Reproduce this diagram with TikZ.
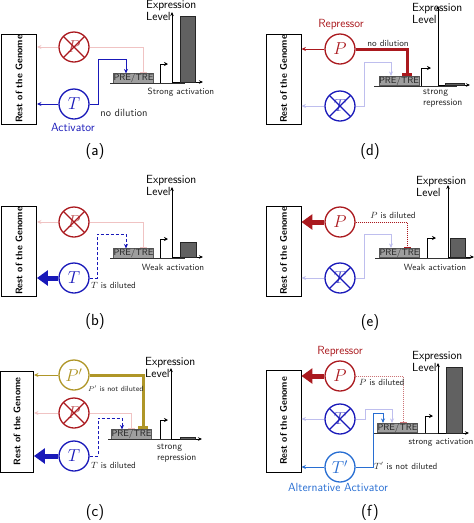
\documentclass[tikz,border=0pt]{standalone}
\usetikzlibrary{arrows.meta}
\definecolor{rdark}{RGB}{170,25,30}
\definecolor{rpale}{RGB}{240,195,195}
\definecolor{bdark}{RGB}{25,25,185}
\definecolor{bpale}{RGB}{190,190,238}
\definecolor{olivec}{RGB}{175,150,40}
\definecolor{bmid}{RGB}{40,110,210}
\tikzset{
 gen/.style={draw, line width=0.9pt, minimum width=35pt, minimum height=90pt, inner sep=0pt,
   label={[rotate=90,font=\sffamily\bfseries\fontsize{9.5}{10}\selectfont]center:Rest of the Genome}},
 circ/.style={circle, draw=#1, text=#1, line width=1.3pt, minimum size=30pt, inner sep=0pt,
   font=\fontsize{18}{18}\selectfont},
 xcirc/.style={circ=#1, text opacity=0.75, path picture={\draw[#1, line width=1.3pt]
   (path picture bounding box.south west) -- (path picture bounding box.north east)
   (path picture bounding box.north west) -- (path picture bounding box.south east);}},
 pre/.style={draw=black!65, fill=black!38, text=black!85, line width=0.6pt, minimum width=39pt, minimum height=9.5pt,
   inner sep=0pt, font=\sffamily\fontsize{9}{9}\selectfont},
 barbox/.style={fill=black!62, draw=black!85, line width=0.5pt},
 cline/.style={line width=1pt},
 act/.style={cline, -{Stealth[length=4.5pt,width=4pt]}},
 rep/.style={cline, -{Bar[width=7pt]}},
 threp/.style={line width=3pt, -{Bar[width=10pt]}},
 tharr/.style={line width=5pt, -{Triangle[length=11pt,width=15pt]}},
 base/.style={line width=0.8pt, black!80},
 prom/.style={line width=0.8pt, -{Stealth[length=4pt,width=4pt]}},
 axisl/.style={line width=0.8pt, -{Stealth[length=4pt,width=3.5pt]}},
 exprs/.style={font=\sffamily\fontsize{11.8}{11.2}\selectfont, align=left, inner sep=0pt, anchor=west},
 lbl/.style={font=\sffamily\fontsize{9}{10.5}\selectfont, inner sep=0pt, black!85},
 rlbl/.style={font=\sffamily\fontsize{9.6}{11}\selectfont, inner sep=0pt, black!85},
 slbl/.style={font=\sffamily\fontsize{7.5}{9}\selectfont, inner sep=0pt, black!85},
 role/.style={font=\sffamily\fontsize{11.8}{13}\selectfont, inner sep=0pt},
 subcap/.style={font=\sffamily\fontsize{16}{18}\selectfont, inner sep=0pt},
}
\begin{document}
\begin{tikzpicture}[x=1pt,y=-1pt]
\useasboundingbox (0,0) rectangle (474,523);
% ================= (a)
\node[gen] (agen) at (19,79) {};
\node[xcirc=rdark] (aP) at (74,47) {$P$};
\node[circ=bdark] (aT) at (74,104) {$T$};
\node[role, text=bdark] (aTl) at (73,127) {Activator};
\node[pre] (apre) at (133.5,78.5) {PRE/TRE};
\draw[act, rpale] (aP.west) -- (aP.west -| agen.east);
\draw[act, bdark] (aT.west) -- (aT.west -| agen.east);
\coordinate (aR) at (143,47);
\draw[rep, rpale] (aP.east) -- (aR) -- (aR |- apre.north);
\coordinate (aA1) at (98,59); \coordinate (aA2) at (126,59);
\draw[act, bdark] (aT.east) -| (aA1) -- (aA2) -- (aA2 |- apre.north);
\coordinate (aB1) at (110,83); \coordinate (aB2) at (185,83);
\draw[base] (aB1) -- (aB2);
\coordinate (aPr) at (160,64);
\draw[prom] (aPr |- aB1) -- (aPr) -- ++(8,0);
\coordinate (aO) at (172,82);
\draw[axisl] (aO) -- ++(0,-70);
\draw[axisl] (aO) -- ++(31,0);
\draw[barbox] (180,16) rectangle (195,82);
\node[exprs] (aEx) at (146,10.5) {Expression\\Level};
\node[lbl] (aSt) at (181,92) {Strong activation};
\node[font=\sffamily\fontsize{10.5}{12}\selectfont, inner sep=0pt, black!85] (aNd) at (124,113) {no dilution};
\node[subcap] (acap) at (95,151.5) {(a)};
% ================= (b)
\node[gen] (bgen) at (19,251) {};
\node[xcirc=rdark] (bP) at (74,222) {$P$};
\node[circ=bdark] (bT) at (74,278) {$T$};
\node[pre] (bpre) at (133.5,253.5) {PRE/TRE};
\draw[act, rpale] (bP.west) -- (bP.west -| bgen.east);
\draw[tharr, bdark] (bT.west) -- (bT.west -| bgen.east);
\coordinate (bR) at (143,222);
\draw[rep, rpale] (bP.east) -- (bR) -- (bR |- bpre.north);
\coordinate (bA1) at (97,234); \coordinate (bA2) at (126,234);
\draw[act, bdark, densely dashed] (bT.east) -| (bA1) -- (bA2) -- (bA2 |- bpre.north);
\coordinate (bB1) at (110,258); \coordinate (bB2) at (185,258);
\draw[base] (bB1) -- (bB2);
\coordinate (bPr) at (160,239);
\draw[prom] (bPr |- bB1) -- (bPr) -- ++(8,0);
\coordinate (bO) at (172,257);
\draw[axisl] (bO) -- ++(0,-70);
\draw[axisl] (bO) -- ++(31,0);
\draw[barbox] (180,242) rectangle (196,257);
\node[exprs] (bEx) at (146,185.5) {Expression\\Level};
\node[lbl] (bSt) at (173,267) {Weak activation};
\node[lbl, anchor=west] (bNd) at (91,285) {$T$ is diluted};
\node[subcap] (bcap) at (95,322) {(b)};
% ================= (c)
\node[gen, minimum width=33pt, minimum height=101pt] (cgen) at (17,421.5) {};
\node[circ=olivec] (cPp) at (74,375) {$P'$};
\node[xcirc=rdark] (cP) at (74,413) {$P$};
\node[circ=bdark] (cT) at (74,456) {$T$};
\node[pre] (cpre) at (131.5,434.5) {PRE/TRE};
\draw[act, olivec] (cPp.west) -- (cPp.west -| cgen.east);
\draw[act, rpale] (cP.west) -- (cP.west -| cgen.east);
\draw[tharr, bdark] (cT.west) -- (cT.west -| cgen.east);
\coordinate (cR) at (143,375);
\draw[threp, olivec] (cPp.east) -- (cR) -- (cR |- cpre.north);
\coordinate (cR2) at (131,413);
\draw[rep, rpale] (cP.east) -- (cR2) -- (cR2 |- cpre.north);
\coordinate (cA1) at (98,418); \coordinate (cA2) at (122,418);
\draw[act, bdark, densely dashed] (cT.east) -| (cA1) -- (cA2) -- (cA2 |- cpre.north);
\coordinate (cB1) at (108,439); \coordinate (cB2) at (190,439);
\draw[base] (cB1) -- (cB2);
\coordinate (cPr) at (160,420);
\draw[prom] (cPr |- cB1) -- (cPr) -- ++(8,0);
\coordinate (cO) at (171,439);
\draw[axisl] (cO) -- ++(0,-71);
\draw[axisl] (cO) -- ++(31,0);
\draw[barbox] (180,437) rectangle (195,439);
\node[exprs] (cEx) at (145,367.5) {Expression\\Level};
\node[rlbl, anchor=west, align=left] (cSt) at (157,453) {strong\\repression};
\node[slbl, anchor=west] (cPd) at (88,389) {$P'$ is not diluted};
\node[lbl, anchor=west] (cNd) at (91,465) {$T$ is diluted};
\node[subcap] (ccap) at (95,513) {(c)};
% ================= (d)
\node[gen] (dgen) at (283.5,79) {};
\node[circ=rdark] (dP) at (340,49) {$P$};
\node[role, text=rdark] (dPl) at (341,25) {Repressor};
\node[xcirc=bdark] (dT) at (340,106) {$T$};
\node[pre] (dpre) at (399,81) {PRE/TRE};
\draw[act, rdark] (dP.west) -- (dP.west -| dgen.east);
\draw[act, bpale] (dT.west) -- (dT.west -| dgen.east);
\coordinate (dR) at (407,49);
\draw[threp, rdark] (dP.east) -- (dR) -- (dR |- dpre.north);
\coordinate (dA1) at (364,62); \coordinate (dA2) at (391,62);
\draw[act, bpale] (dT.east) -| (dA1) -- (dA2) -- (dA2 |- dpre.north);
\coordinate (dB1) at (374,86); \coordinate (dB2) at (457,86);
\draw[base] (dB1) -- (dB2);
\coordinate (dPr) at (421,68);
\draw[prom] (dPr |- dB1) -- (dPr) -- ++(10,0);
\coordinate (dO) at (438,85);
\draw[axisl] (dO) -- ++(0,-79);
\draw[axisl] (dO) -- ++(32,0);
\draw[barbox] (445,83) rectangle (464,85);
\node[exprs] (dEx) at (412,13.5) {Expression\\Level};
\node[rlbl, anchor=west, align=left] (dSt) at (423,98.5) {strong\\repression};
\node[lbl] (dNd) at (388,43) {no dilution};
\node[subcap] (dcap) at (370,152) {(d)};
% ================= (e)
\node[gen] (egen) at (283.5,251) {};
\node[circ=rdark] (eP) at (340,222) {$P$};
\node[xcirc=bdark] (eT) at (340,278) {$T$};
\node[pre] (epre) at (399.5,253) {PRE/TRE};
\draw[tharr, rdark] (eP.west) -- (eP.west -| egen.east);
\draw[act, bpale] (eT.west) -- (eT.west -| egen.east);
\coordinate (eR) at (407,222);
\draw[rep, rdark, densely dotted] (eP.east) -- (eR) -- (eR |- epre.north);
\coordinate (eA1) at (364,234); \coordinate (eA2) at (391,234);
\draw[act, bpale] (eT.east) -| (eA1) -- (eA2) -- (eA2 |- epre.north);
\coordinate (eB1) at (375,258); \coordinate (eB2) at (470,258);
\draw[base] (eB1) -- (eB2);
\coordinate (ePr) at (427,238);
\draw[prom] (ePr |- eB1) -- (ePr) -- ++(9,0);
\coordinate (eO) at (448,257);
\draw[axisl] (eO) -- ++(0,-72);
\draw[axisl] (eO) -- ++(26,0);
\draw[barbox] (450,238) rectangle (465,257);
\node[exprs] (eEx) at (416,186.5) {Expression\\Level};
\node[lbl] (eSt) at (435,267) {Weak activation};
\node[lbl] (ePd) at (393,215) {$P$ is diluted};
\node[subcap] (ecap) at (370,323) {(e)};
% ================= (f)
\node[gen, minimum height=102pt] (fgen) at (283.5,421) {};
\node[circ=rdark] (fP) at (340,376) {$P$};
\node[role, text=rdark] (fPl) at (340,352) {Repressor};
\node[xcirc=bdark] (fT) at (340,419) {$T$};
\node[circ=bmid] (fTp) at (340,467) {$T'$};
\node[role, text=bmid] (fTl) at (338,487) {Alternative Activator};
\node[pre] (fpre) at (397.5,428) {PRE/TRE};
\draw[tharr, rdark] (fP.west) -- (fP.west -| fgen.east);
\draw[act, bpale] (fT.west) -- (fT.west -| fgen.east);
\draw[act, bmid] (fTp.west) -- (fTp.west -| fgen.east);
\coordinate (fR) at (403,376);
\draw[rep, rdark!60, densely dotted] (fP.east) -- (fR) -- (fR |- fpre.north);
\coordinate (fA1) at (365,409); \coordinate (fA2) at (392,409);
\draw[act, bpale] (fT.east) -| (fA1) -- (fA2) -- (fA2 |- fpre.north);
\coordinate (fC1) at (373,413); \coordinate (fC2) at (383,413);
\draw[act, bmid] (fTp.east) -| (fC1) -- (fC2) -- (fC2 |- fpre.north);
\coordinate (fB1) at (374,433); \coordinate (fB2) at (467,433);
\draw[base] (fB1) -- (fB2);
\coordinate (fPr) at (425,416);
\draw[prom] (fPr |- fB1) -- (fPr) -- ++(8,0);
\coordinate (fO) at (438,433);
\draw[axisl] (fO) -- ++(0,-70);
\draw[axisl] (fO) -- ++(31,0);
\draw[barbox] (446,367) rectangle (462,433);
\node[exprs] (fEx) at (412,361.5) {Expression\\Level};
\node[lbl] (fSt) at (441,442) {strong activation};
\node[lbl, anchor=west] (fPd) at (359,382) {$P$ is diluted};
\node[lbl, anchor=west] (fNd) at (374,466) {$T'$ is not diluted};
\node[subcap] (fcap) at (370,513) {(f)};
\end{tikzpicture}
\end{document}
